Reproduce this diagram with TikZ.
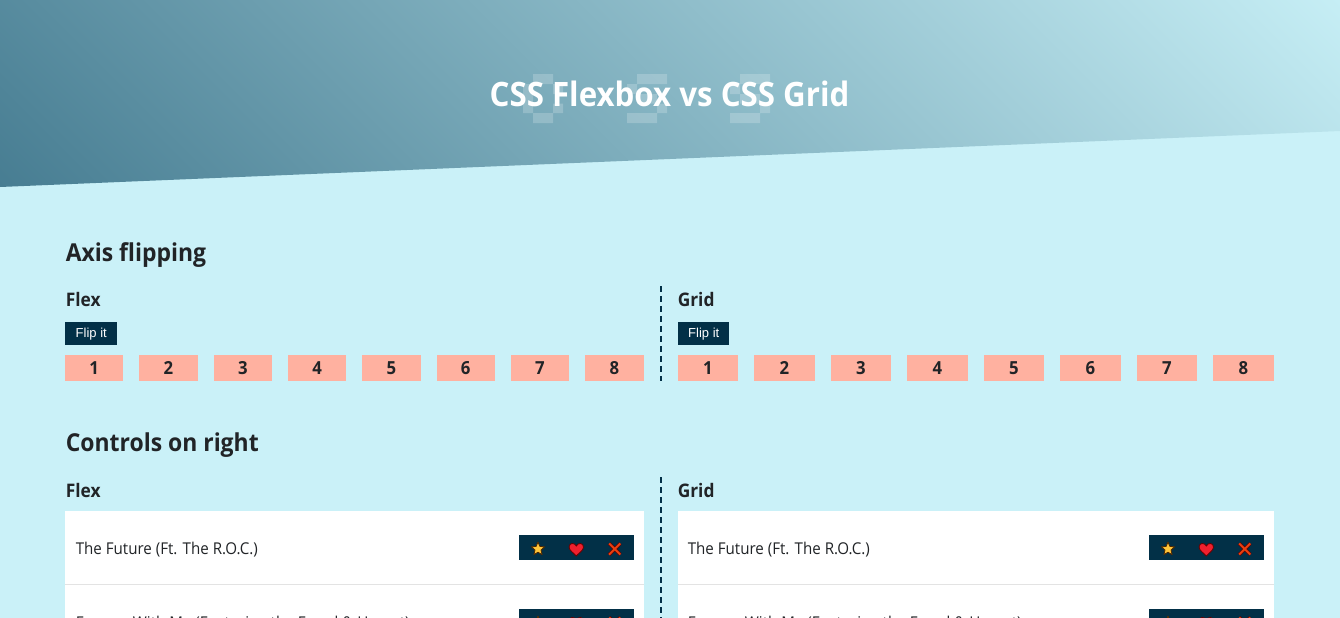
\documentclass[tikz,border=0pt]{standalone}
\usepackage{fontspec}
\setmainfont{Open Sans}[FakeStretch=0.93]
\newfontfamily\btnfont{Liberation Sans}
\definecolor{pagebg}{HTML}{CAF1F8}
\definecolor{headdark}{HTML}{477D92}
\definecolor{headlight}{HTML}{C6EEF5}
\definecolor{barblue}{HTML}{023047}
\definecolor{itemred}{HTML}{FFB1A0}
\definecolor{inktext}{HTML}{212427}
\definecolor{staryellow}{HTML}{FFC53A}
\definecolor{heartred}{HTML}{F0202E}
\definecolor{crossred}{HTML}{E8400F}
\tikzset{
	heading/.style={anchor=base west,inner sep=0,text=inktext,font=\fontsize{18.5}{20}\selectfont\bfseries},
	subhead/.style={anchor=base west,inner sep=0,text=inktext,font=\fontsize{14}{16}\selectfont\bfseries},
	flipbtn/.style={anchor=north west,fill=barblue,text=white,inner sep=0,minimum height=17.25pt,font=\btnfont\fontsize{9.75}{11}\selectfont},
	flexitem/.style={fill=itemred,text=inktext,inner sep=0,minimum width=43.8pt,minimum height=19.5pt,font=\fontsize{13.5}{16}\selectfont\bfseries},
	griditem/.style={flexitem,minimum width=45.2pt},
	songtext/.style={anchor=base west,inner sep=0,text=inktext,font=\fontsize{12.2}{14}\selectfont},
	ctrlbar/.style={anchor=north west,fill=barblue,inner sep=0,minimum width=86.25pt,minimum height=18.75pt},
	divider/.style={draw=barblue,line width=1.5pt,dash pattern=on 4.5pt off 3pt},
	staricon/.pic={\draw[draw=black!70!orange,fill=staryellow,line width=.6pt,line join=round] (0,-7) -- (1.88,-2.59) -- (6.66,-2.16) -- (3.04,.99) -- (4.11,5.66) -- (0,3.2) -- (-4.11,5.66) -- (-3.04,.99) -- (-6.66,-2.16) -- (-1.88,-2.59) -- cycle;},
	hearticon/.pic={\draw[draw=red!40!black,fill=heartred,line width=.6pt] (0,6.5) .. controls (-2.5,3.5) and (-7.2,1) .. (-7.2,-2.5) .. controls (-7.2,-7) and (-1.5,-7) .. (0,-3.5) .. controls (1.5,-7) and (7.2,-7) .. (7.2,-2.5) .. controls (7.2,1) and (2.5,3.5) .. (0,6.5) -- cycle;},
	crossicon/.pic={\draw[red!40!black,line width=2.5pt] (-5.6,-5.6) -- (5.6,5.6) (-5.6,5.6) -- (5.6,-5.6);
		\draw[crossred,line width=1.5pt] (-5.6,-5.6) -- (5.6,5.6) (-5.6,5.6) -- (5.6,-5.6);}
}
\begin{document}
\begin{tikzpicture}[x=0.75pt,y=-0.75pt]
	\useasboundingbox (0,0) rectangle (1340,618);
	\clip (0,0) rectangle (1340,618);
	\fill[pagebg] (0,0) rectangle (1340,618);
	% header
	\begin{scope}
		\clip (0,0) -- (1340,0) -- (1340,131) -- (0,187) -- cycle;
		\shade[transform canvas={shift={(670,93.5)},rotate=45},left color=headdark,right color=headlight] (-540,-540) rectangle (540,540);
	\end{scope}
	\fill[white,opacity=.2]
		(533,74) rectangle (553,84) (523,84) rectangle (533,113) (553,84) rectangle (563,94) (553,103.5) rectangle (563,113) (533,113) rectangle (553,123)
		(637,74) rectangle (667,84) (627,84) rectangle (637,94) (637,94) rectangle (657,103.5) (657,103.5) rectangle (667,113) (627,113) rectangle (657,123)
		(740,74) rectangle (770,84) (730,84) rectangle (740,94) (740,94) rectangle (760,103.5) (760,103.5) rectangle (770,113) (730,113) rectangle (760,123);
	\node[anchor=base,inner sep=0,text=white,font=\fontsize{25.2}{28}\selectfont\bfseries] (title) at (669.5,106) {CSS Flexbox vs CSS Grid};
	% axis flipping
	\node[heading] (axishead) at (65.5,261) {Axis flipping};
	\node[subhead] (flexa) at (65.5,306) {Flex};
	\node[subhead] (grida) at (677.5,306) {Grid};
	\node[flipbtn,minimum width=39pt] (flipflex) at (65,322) {Flip it};
	\node[flipbtn,minimum width=38.25pt] (flipgrid) at (678,322) {Flip it};
	\foreach \n in {1,...,8}{
		\node[flexitem] (flex\n) at ({94.2+74.3*(\n-1)},368) {\n};
		\node[griditem] (grid\n) at ({708+76.5*(\n-1)},368) {\n};
	}
	\coordinate (divatop) at (661,286);
	\coordinate (divabot) at (661,381);
	\draw[divider] (divatop) -- (divabot);
	% controls on right
	\node[heading] (ctrlhead) at (65.5,451) {Controls on right};
	\node[subhead] (flexb) at (65.5,497) {Flex};
	\node[subhead] (gridb) at (677.5,497) {Grid};
	\fill[white] (65,511) rectangle (644,618);
	\fill[white] (678,511) rectangle (1274,618);
	\fill[black!11] (65,584) rectangle (644,585);
	\fill[black!11] (678,584) rectangle (1274,585);
	\coordinate (divctop) at (661,477);
	\coordinate (divcbot) at (661,618);
	\draw[divider] (divctop) -- (divcbot);
	\foreach \bx/\tx/\r in {519/75.5/l,1149/687.5/r}{
		\foreach \by/\tb/\song in {535/554/{The Future (Ft. The R.O.C.)},609/628/{Forever With Me (Featuring the Fraud \& Horvat)}}{
			\node[songtext] (song\r\by) at (\tx,\tb) {\song};
			\node[ctrlbar] (bar\r\by) at (\bx,\by) {};
			\pic at ({\bx+19},{\by+14}) {staricon};
			\pic at ({\bx+57.3},{\by+14.5}) {hearticon};
			\pic at ({\bx+95.7},{\by+14}) {crossicon};
		}
	}
\end{tikzpicture}
\end{document}
